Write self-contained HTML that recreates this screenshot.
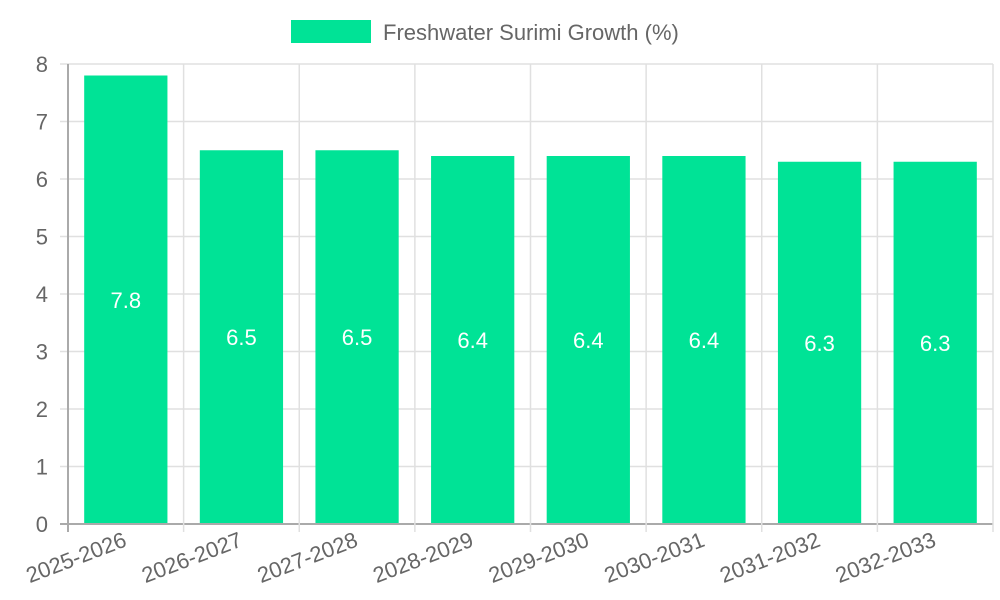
<!DOCTYPE html>
<html><head><meta charset="utf-8"><style>body{margin:0;background:#fff}svg{display:block;font-family:"Liberation Sans",sans-serif}</style></head>
<body>
<svg id="c" width="1000" height="600">
<g>
<rect x="291" y="20" width="80" height="23" fill="#00e396"></rect>
<text x="383" y="40" font-size="22" fill="#666">Freshwater Surimi Growth (%)</text>
</g>
</svg>
<script>
const categories=["2025-2026","2026-2027","2027-2028","2028-2029","2029-2030","2030-2031","2031-2032","2032-2033"];
const values=[7.8,6.5,6.5,6.4,6.4,6.4,6.3,6.3];
const yTicks=[0,1,2,3,4,5,6,7,8];
const svg=document.getElementById('c');const NS='http://www.w3.org/2000/svg';
const L=68,R=993,T=64,B=524,yMax=8;
const cw=(R-L)/categories.length;
const y=v=>B-(v/yMax)*(B-T);
const x=i=>L+i*cw;
function mk(t,a,p){const e=document.createElementNS(NS,t);for(const k in a)e.setAttribute(k,a[k]);(p||svg).appendChild(e);return e;}
const grid=mk('g',{});


yTicks.forEach(v=>{
 const l=mk('line',{x1:L-8,x2:R,y1:y(v),y2:y(v),stroke:v===0?'#aaa':'#e0e0e0','stroke-width':v===0?2:1.5},grid);
 
 
 const t=mk('text',{x:L-20,y:y(v)+8,'text-anchor':'end','font-size':22,fill:'#666'},grid);
 t.textContent=v;
 
 
});
for(let i=0;i<=categories.length;i++){
 const l=mk('line',{x1:x(i),x2:x(i),y1:T,y2:B+8,stroke:i===0?'#aaa':'#e0e0e0','stroke-width':i===0?2:1.5},grid);
 
 
}
values.forEach((v,i)=>{
 const bw=cw*0.72,cx=x(i)+cw/2;
 const r=mk('rect',{x:cx-bw/2,y:y(v),width:bw,height:B-1-y(v),fill:'#00e396'});
 
 
 const t=mk('text',{x:cx,y:(y(v)+B)/2+8,'text-anchor':'middle','font-size':22,fill:'#fff'});
 t.textContent=v;
 
 
 const c=mk('text',{x:cx,y:B+22,'text-anchor':'end','font-size':22,fill:'#666',transform:`rotate(-21 ${cx} ${B+16})`});
 c.textContent=categories[i];
 
 
});
</script>
</body></html>
